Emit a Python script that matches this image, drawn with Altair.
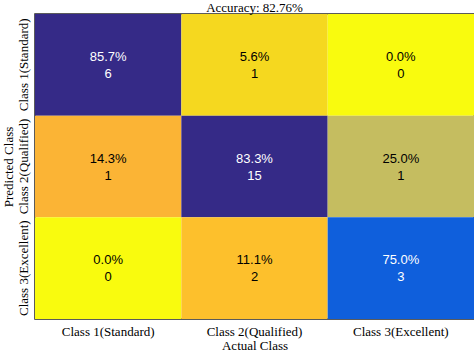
import altair as alt
import pandas as pd

classes = ["Class 1(Standard)", "Class 2(Qualified)", "Class 3(Excellent)"]
actual = classes * 3
predicted = [classes[0]] * 3 + [classes[1]] * 3 + [classes[2]] * 3
percents = ["85.7%", "5.6%", "0.0%", "14.3%", "83.3%", "25.0%", "0.0%", "11.1%", "75.0%"]
counts = [6, 1, 0, 1, 15, 1, 0, 2, 3]
cell_ids = ["c11", "c12", "c13", "c21", "c22", "c23", "c31", "c32", "c33"]
cell_colors = ["#352a87", "#f5d81f", "#f9fb0e", "#fbb435", "#352a87", "#c5bd60", "#f9fb0e", "#fdc02c", "#0f5fdc"]
text_colors = ["#ffffff", "#000000", "#000000", "#000000", "#ffffff", "#000000", "#000000", "#000000", "#ffffff"]

df = pd.DataFrame({
    "Actual": actual,
    "Predicted": predicted,
    "pct": percents,
    "count": [str(c) for c in counts],
    "cell": cell_ids,
    "tcol": text_colors,
})

x = alt.X("Actual:N", sort=classes, title="Actual Class",
          axis=alt.Axis(labelAngle=0, ticks=False, domain=False, labelPadding=6,
                        titlePadding=1, labelFont="Liberation Serif", titleFont="Liberation Serif",
                        labelFontSize=13, titleFontSize=13, labelColor="#000", titleColor="#000",
                        titleFontWeight="normal"))
y = alt.Y("Predicted:N", sort=classes, title="Predicted Class",
          axis=alt.Axis(labelAngle=-90, ticks=False, domain=False, labelPadding=5,
                        labelAlign="center", labelBaseline="bottom",
                        titlePadding=2, labelFont="Liberation Serif", titleFont="Liberation Serif",
                        labelFontSize=13, titleFontSize=13, labelColor="#000", titleColor="#000",
                        titleFontWeight="normal"))

base = alt.Chart(df)
rects = base.mark_rect().encode(
    x=x, y=y,
    color=alt.Color("cell:N", scale=alt.Scale(domain=cell_ids, range=cell_colors), legend=None),
)
t1 = base.mark_text(font="Liberation Sans", fontSize=13, dy=-8).encode(
    x=alt.X("Actual:N", sort=classes), y=alt.Y("Predicted:N", sort=classes),
    text="pct:N", color=alt.Color("tcol:N", scale=None),
)
t2 = base.mark_text(font="Liberation Sans", fontSize=13, dy=9).encode(
    x=alt.X("Actual:N", sort=classes), y=alt.Y("Predicted:N", sort=classes),
    text="count:N", color=alt.Color("tcol:N", scale=None),
)

chart = alt.layer(rects, t1, t2).properties(
    width=439, height=305,
    title=alt.TitleParams("Accuracy: 82.76%", font="Liberation Serif", fontSize=13,
                          fontWeight="normal", color="#000", offset=0, dy=1),
    autosize=alt.AutoSizeParams(type="none"),
    padding={"left": 35, "top": 14, "right": 0, "bottom": 33},
).configure_view(stroke="#262626", strokeWidth=1.5).configure_scale(bandPaddingInner=0, bandPaddingOuter=0)

chart.save("out.html", embed_options={"renderer": "svg", "actions": False})
